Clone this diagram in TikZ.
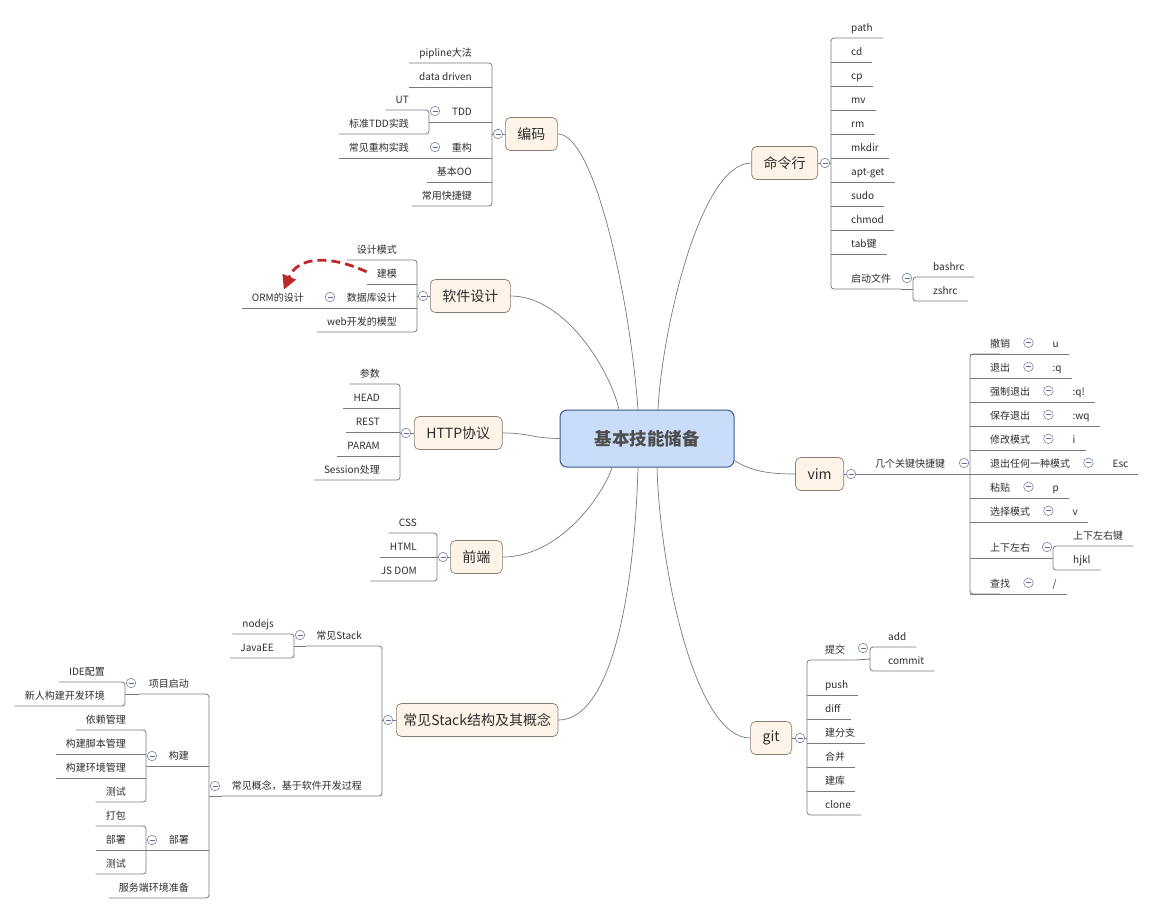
\documentclass[tikz,border=0pt]{standalone}
\usepackage{fontspec}
\setmainfont{Noto Sans CJK SC}
\usetikzlibrary{arrows.meta}
\definecolor{linecol}{RGB}{122,122,122}
\definecolor{txtcol}{RGB}{45,45,45}
\definecolor{topicfill}{RGB}{254,243,233}
\definecolor{topicline}{RGB}{140,125,110}
\definecolor{rootfill}{RGB}{201,221,250}
\definecolor{rootline}{RGB}{60,90,145}
\definecolor{roottext}{RGB}{78,78,78}
\definecolor{foldcol}{RGB}{120,132,160}
\definecolor{foldmark}{RGB}{90,110,160}
\definecolor{linkcol}{RGB}{190,40,40}

\tikzset{
  branch/.style={draw=linecol, line width=0.8pt},
  bracket/.style={branch, rounded corners=3pt},
  curve/.style={draw=linecol, line width=0.7pt},
  root/.style={draw=rootline, fill=rootfill, line width=1pt, rounded corners=7pt,
    minimum width=174pt, minimum height=57pt, text=roottext,
    font=\fontsize{17.5pt}{20pt}\selectfont\bfseries},
  topic/.style={draw=topicline, fill=topicfill, line width=0.7pt, rounded corners=5pt,
    inner xsep=12pt, minimum height=33pt, text=txtcol,
    font=\fontsize{14pt}{16pt}\selectfont},
  item/.style={inner xsep=10pt, inner ysep=4pt, text height=8pt, text depth=2pt,
    text=txtcol, font=\fontsize{10pt}{12pt}\selectfont},
  litem/.style={item, anchor=south east},
  ritem/.style={item, anchor=south west},
  fold/.style={circle, draw=foldcol, fill=white, line width=0.6pt, minimum size=9.5pt,
    inner sep=0pt, path picture={\draw[foldmark, line width=0.7pt]
      ([xshift=-2.5pt]path picture bounding box.center) --
      ([xshift=2.5pt]path picture bounding box.center);}},
  link/.style={draw=linkcol, line width=2.8pt, dash pattern=on 9pt off 5pt,
    -{Triangle[length=14pt,width=14pt]}},
}

\begin{document}
\begin{tikzpicture}[x=1pt, y=-1pt]
  \fill[white] (0,0) rectangle (1156,914);
  \useasboundingbox (0,0) rectangle (1156,914);

  \node[root] (root) at (647,438.5) {基本技能储备};

  % 编码
  \node[topic, anchor=west] (cod) at (505,134) {编码};
  \coordinate (codbar) at (492,134);
  \foreach \i/\txt/\y in {1/pipline大法/63, 2/data driven/87, 3/TDD/122,
                          4/重构/158, 5/基本OO/182, 6/常用快捷键/206}
    \node[litem] (cod\i) at (482,\y) {\txt};
  \draw[bracket] (cod1.south west) -- (codbar |- cod1.south)
    -- (codbar |- cod6.south) -- (cod6.south west);
  \foreach \i in {2,...,5}
    \draw[branch] (cod\i.south west) -- (codbar |- cod\i.south);
  \draw[branch] (cod.west) -- (codbar);
  \node[fold] (codf) at (498,134) {};
  \coordinate (tddbar) at (429,122);
  \node[litem] (tdd1) at (419,110) {UT};
  \node[litem] (tdd2) at (419,134) {标准TDD实践};
  \draw[bracket] (tdd1.south west) -- (tddbar |- tdd1.south)
    -- (tddbar |- tdd2.south) -- (tdd2.south west);
  \draw[branch] (tddbar) -- (cod3.south west);
  \node[fold] (tddf) at (435,111) {};
  \node[litem] (ref1) at (419,158) {常见重构实践};
  \draw[branch] (ref1.south west) -- (cod4.south west);
  \node[fold] (reff) at (435,147) {};

  % 软件设计
  \node[topic, anchor=west] (sw) at (430,296) {软件设计};
  \coordinate (swbar) at (417,296);
  \foreach \i/\txt/\y in {1/设计模式/260, 2/建模/284, 3/数据库设计/308, 4/web开发的模型/332}
    \node[litem] (sw\i) at (407,\y) {\txt};
  \draw[bracket] (sw1.south west) -- (swbar |- sw1.south)
    -- (swbar |- sw4.south) -- (sw4.south west);
  \foreach \i in {2,3}
    \draw[branch] (sw\i.south west) -- (swbar |- sw\i.south);
  \draw[branch] (sw.west) -- (swbar);
  \node[fold] (swf) at (423,296) {};
  \node[litem] (orm) at (314,308) {ORM的设计};
  \draw[branch] (orm.south west) -- (sw3.south west);
  \node[fold] (dbf) at (330,297) {};
  \draw[link] ([yshift=3pt]sw2.west) .. controls (330,255) and (298,256)
    .. ([xshift=6pt]orm.north);

  % HTTP协议
  \node[topic, anchor=west] (http) at (414,433) {HTTP协议};
  \coordinate (httpbar) at (400,433);
  \foreach \i/\txt/\y in {1/参数/384, 2/HEAD/408, 3/REST/432, 4/PARAM/456, 5/Session处理/480}
    \node[litem] (http\i) at (390,\y) {\txt};
  \draw[bracket] (http1.south west) -- (httpbar |- http1.south)
    -- (httpbar |- http5.south) -- (http5.south west);
  \foreach \i in {2,3,4}
    \draw[branch] (http\i.south west) -- (httpbar |- http\i.south);
  \draw[branch] (http.west) -- (httpbar);
  \node[fold] (httpf) at (406,433) {};

  % 前端
  \node[topic, anchor=west] (fe) at (450,557) {前端};
  \coordinate (febar) at (437,557);
  \foreach \i/\txt/\y in {1/CSS/533, 2/HTML/557, 3/JS DOM/581}
    \node[litem] (fe\i) at (427,\y) {\txt};
  \draw[bracket] (fe1.south west) -- (febar |- fe1.south)
    -- (febar |- fe3.south) -- (fe3.south west);
  \draw[branch] (fe2.south west) -- (febar |- fe2.south);
  \draw[branch] (fe.west) -- (febar);
  \node[fold] (fef) at (443,557) {};

  % 常见Stack结构及其概念
  \node[topic, anchor=west, inner xsep=7pt] (stk) at (396,720) {常见Stack结构及其概念};
  \coordinate (stkbar) at (382,720);
  \node[litem] (stk1) at (372,646) {常见Stack};
  \node[litem] (stk2) at (372,796) {常见概念，基于软件开发过程};
  \draw[bracket] (stk1.south west) -- (stkbar |- stk1.south)
    -- (stkbar |- stk2.south) -- (stk2.south west);
  \draw[branch] (stk.west) -- (stkbar);
  \node[fold] (stkf) at (388,720) {};
  \coordinate (lsbar) at (294,646);
  \node[litem] (ls1) at (284,634) {nodejs};
  \node[litem] (ls2) at (284,658) {JavaEE};
  \draw[bracket] (ls1.south west) -- (lsbar |- ls1.south)
    -- (lsbar |- ls2.south) -- (ls2.south west);
  \draw[branch] (lsbar) -- (stk1.south west);
  \node[fold] (lsf) at (300,635) {};
  \coordinate (dpbar) at (209,796);
  \foreach \i/\txt/\y in {1/项目启动/694, 2/构建/766, 3/部署/850, 4/服务端环境准备/898}
    \node[litem] (dp\i) at (199,\y) {\txt};
  \draw[bracket] (dp1.south west) -- (dpbar |- dp1.south)
    -- (dpbar |- dp4.south) -- (dp4.south west);
  \foreach \i in {2,3}
    \draw[branch] (dp\i.south west) -- (dpbar |- dp\i.south);
  \draw[branch] (dpbar) -- (stk2.south west);
  \node[fold] (dpf) at (215,786) {};
  % 项目启动
  \coordinate (pjbar) at (125,694);
  \node[litem] (pj1) at (115,682) {IDE配置};
  \node[litem] (pj2) at (115,706) {新人构建开发环境};
  \draw[bracket] (pj1.south west) -- (pjbar |- pj1.south)
    -- (pjbar |- pj2.south) -- (pj2.south west);
  \draw[branch] (pjbar) -- (dp1.south west);
  \node[fold] (pjf) at (131,683) {};
  % 构建
  \coordinate (bdbar) at (146,766);
  \foreach \i/\txt/\y in {1/依赖管理/730, 2/构建脚本管理/754, 3/构建环境管理/778, 4/测试/802}
    \node[litem] (bd\i) at (136,\y) {\txt};
  \draw[bracket] (bd1.south west) -- (bdbar |- bd1.south)
    -- (bdbar |- bd4.south) -- (bd4.south west);
  \foreach \i in {2,3}
    \draw[branch] (bd\i.south west) -- (bdbar |- bd\i.south);
  \draw[branch] (bdbar) -- (dp2.south west);
  \node[fold] (bdf) at (152,756) {};
  % 部署
  \coordinate (dlbar) at (146,850);
  \foreach \i/\txt/\y in {1/打包/826, 2/部署/850, 3/测试/874}
    \node[litem] (dl\i) at (136,\y) {\txt};
  \draw[bracket] (dl1.south west) -- (dlbar |- dl1.south)
    -- (dlbar |- dl3.south) -- (dl3.south west);
  \draw[branch] (dl2.south west) -- (dlbar |- dl2.south);
  \draw[branch] (dlbar) -- (dp3.south west);
  \node[fold] (dlf) at (152,840) {};

  % 命令行
  \node[topic, anchor=east] (cmd) at (818,163) {命令行};
  \coordinate (cmdbar) at (831,163);
  \foreach \i/\txt/\y in {1/path/38, 2/cd/62, 3/cp/86, 4/mv/110, 5/rm/134, 6/mkdir/158,
                          7/apt-get/182, 8/sudo/206, 9/chmod/230, 10/tab键/254, 11/启动文件/289}
    \node[ritem] (cmd\i) at (841,\y) {\txt};
  \draw[bracket] (cmd1.south east) -- (cmdbar |- cmd1.south)
    -- (cmdbar |- cmd11.south) -- (cmd11.south east);
  \foreach \i in {2,...,10}
    \draw[branch] (cmdbar |- cmd\i.south) -- (cmd\i.south east);
  \draw[branch] (cmd.east) -- (cmdbar);
  \node[fold] (cmdf) at (825,163) {};
  \coordinate (rcbar) at (913,289);
  \node[ritem] (rc1) at (923,277) {bashrc};
  \node[ritem] (rc2) at (923,301) {zshrc};
  \draw[bracket] (rc1.south east) -- (rcbar |- rc1.south)
    -- (rcbar |- rc2.south) -- (rc2.south east);
  \draw[branch] (cmd11.south east) -- (rcbar);
  \node[fold] (rcf) at (907,278) {};

  % vim
  \node[topic, anchor=east] (vim) at (844,474) {vim};
  \node[ritem] (vimk) at (865,474) {几个关键快捷键};
  \coordinate (vimbar) at (970,474);
  \draw[branch] (vim.east) -- (vimbar);
  \node[fold] (vimf) at (851,474) {};
  \foreach \i/\txt/\val/\y in {1/撤销/u/354, 2/退出/:q/378, 3/强制退出/:q!/402,
                               4/保存退出/:wq/426, 5/修改模式/i/450, 6/退出任何一种模式/Esc/474,
                               7/粘贴/p/498, 8/选择模式/v/522, 10/查找/{/}/594} {
    \node[ritem] (vk\i) at (980,\y) {\txt};
    \node[ritem] (vv\i) at ([xshift=22pt]vk\i.south east) {\val};
    \draw[branch] (vimbar |- vk\i.south) -- (vv\i.south east);
    \node[fold] (vf\i) at ([xshift=8pt,yshift=2pt]vk\i.east) {};
  }
  \node[ritem] (vk9) at (980,558) {上下左右};
  \draw[bracket] (vk1.south) -- (vimbar |- vk1.south)
    -- (vimbar |- vk10.south) -- (vk10.south);
  \node[fold] (vimkf) at (964,463) {};
  \coordinate (arbar) at (1053,558);
  \node[ritem] (ar1) at (1063,546) {上下左右键};
  \node[ritem] (ar2) at (1063,570) {hjkl};
  \draw[bracket] (ar1.south east) -- (arbar |- ar1.south)
    -- (arbar |- ar2.south) -- (ar2.south east);
  \draw[branch] (vimbar |- vk9.south) -- (arbar);
  \node[fold] (vf9) at (1047,547) {};

  % git
  \node[topic, anchor=east] (git) at (792,738) {git};
  \coordinate (gitbar) at (807,738);
  \foreach \i/\txt/\y in {1/提交/660, 2/push/695, 3/diff/719, 4/建分支/743,
                          5/合并/767, 6/建库/791, 7/clone/815}
    \node[ritem] (git\i) at (815,\y) {\txt};
  \draw[bracket] (git1.south east) -- (gitbar |- git1.south)
    -- (gitbar |- git7.south) -- (git7.south east);
  \foreach \i in {2,...,6}
    \draw[branch] (gitbar |- git\i.south) -- (git\i.south east);
  \draw[branch] (git.east) -- (gitbar);
  \node[fold] (gitf) at (800,738) {};
  \coordinate (cibar) at (870,659);
  \node[ritem] (ci1) at (878,647) {add};
  \node[ritem] (ci2) at (878,671) {commit};
  \draw[bracket] (ci1.south east) -- (cibar |- ci1.south)
    -- (cibar |- ci2.south) -- (ci2.south east);
  \draw[branch] (git1.south east) -- (cibar);
  \node[fold] (cif) at (863,648) {};

  % curves from the centre
  \draw[curve] (cod.east) .. controls (595,134) and (630,300) .. ([xshift=-9pt]root.north);
  \draw[curve] (sw.east) .. controls (565,296) and (610,370) .. ([xshift=-28pt]root.north);
  \draw[curve] (http.east) .. controls (530,433) and (530,438) .. (root.west);
  \draw[curve] (fe.east) .. controls (560,557) and (603,495) .. ([xshift=-35pt]root.south);
  \draw[curve] (stk.east) .. controls (610,720) and (634,600) .. ([xshift=-9pt]root.south);
  \draw[curve] ([xshift=11pt]root.north) .. controls (662,330) and (700,163) .. (cmd.west);
  \draw[curve] ([yshift=-22pt]root.east) .. controls (752,472) and (772,474) .. (vim.west);
  \draw[curve] ([xshift=10pt]root.south) .. controls (660,570) and (695,738) .. (git.west);
\end{tikzpicture}
\end{document}
